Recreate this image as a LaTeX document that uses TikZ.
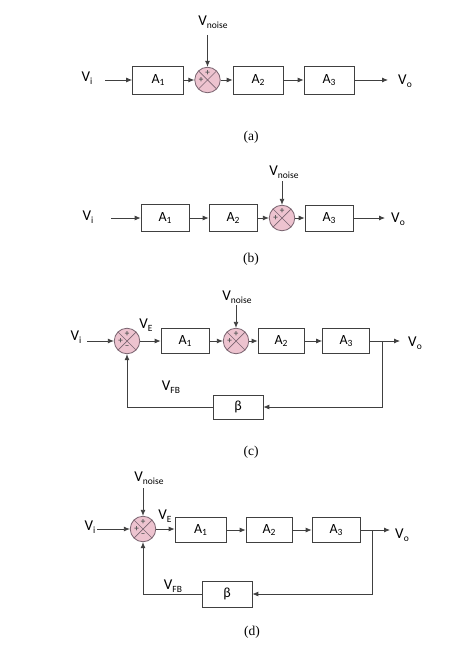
\documentclass[tikz,border=0pt]{standalone}
\usepackage{fontspec}
\setmainfont{Carlito}
\newfontfamily\capfont{Liberation Serif}
\usetikzlibrary{arrows.meta}
\newcommand\vsub[2]{#1\raisebox{-0.35ex}{\fontsize{9.5}{9.5}\selectfont #2}}
\definecolor{sumpink}{HTML}{EDC3CF}
\definecolor{sumedge}{HTML}{7A6470}
\begin{document}
\begin{tikzpicture}[x=1pt,y=-1pt,
  blk/.style={draw=black!75, line width=0.7pt, fill=white, inner sep=0pt, font=\fontsize{14}{14}\selectfont},
  sumj/.style={circle, draw=sumedge, fill=sumpink, line width=0.8pt, minimum size=25.5pt, inner sep=0pt,
    path picture={\draw[sumedge, line width=0.7pt] (path picture bounding box.north west)--(path picture bounding box.south east) (path picture bounding box.north east)--(path picture bounding box.south west);}},
  lbl/.style={font=\fontsize{15}{15}\selectfont, inner sep=0pt},
  sig/.style={font=\bfseries\fontsize{9}{9}\selectfont, inner sep=0pt, text=black!65},
  arr/.style={-{Latex[length=6pt,width=5pt]}, draw=black!75, line width=0.8pt},
  captxt/.style={font=\capfont\fontsize{13.5}{13.5}\selectfont, inner sep=0pt}]
\useasboundingbox (0,0) rectangle (474,655);

% ---------- (a) ----------
\node[lbl] (avi) at (87,78) {\vsub{V}{i}};
\coordinate (avin) at (105,80);
\node[blk, minimum width=51pt, minimum height=28pt] (aa1) at (158,80) {\vsub{A}{1}};
\node[sumj] (as) at (207.5,80) {};
\node[sig] at ([yshift=6.5pt]as.center) {+};
\node[sig] at ([xshift=-6.5pt]as.center) {+};
\node[blk, minimum width=50pt, minimum height=28pt] (aa2) at (258,80) {\vsub{A}{2}};
\node[blk, minimum width=50pt, minimum height=28pt] (aa3) at (329,80) {\vsub{A}{3}};
\coordinate (aout) at (388,80);
\node[lbl] (avo) at (405,81) {\vsub{V}{o}};
\node[lbl] (avn) at (213,22) {\vsub{V}{noise}};
\coordinate (anin) at (207.5,35);
\draw[arr] (avin) -- (aa1.west);
\draw[arr] (aa1.east) -- (as.west);
\draw[arr] (as.east) -- (aa2.west);
\draw[arr] (aa2.east) -- (aa3.west);
\draw[arr] (aa3.east) -- (aout);
\draw[arr] (anin) -- (as.north);
\node[captxt] (capa) at (251,137) {(a)};

% ---------- (b) ----------
\node[lbl] (bvi) at (88,217) {\vsub{V}{i}};
\coordinate (bvin) at (111,218);
\node[blk, minimum width=48pt, minimum height=27pt] (ba1) at (165,218) {\vsub{A}{1}};
\node[blk, minimum width=48pt, minimum height=27pt] (ba2) at (233,218) {\vsub{A}{2}};
\node[sumj] (bs) at (282,218) {};
\node[sig] at ([yshift=6.5pt]bs.center) {+};
\node[sig] at ([xshift=-6.5pt]bs.center) {+};
\node[blk, minimum width=48pt, minimum height=26pt] (ba3) at (329,218) {\vsub{A}{3}};
\coordinate (bout) at (385,218);
\node[lbl] (bvo) at (398,219) {\vsub{V}{o}};
\node[lbl] (bvn) at (284,172) {\vsub{V}{noise}};
\coordinate (bnin) at (282,181);
\draw[arr] (bvin) -- (ba1.west);
\draw[arr] (ba1.east) -- (ba2.west);
\draw[arr] (ba2.east) -- (bs.west);
\draw[arr] (bs.east) -- (ba3.west);
\draw[arr] (ba3.east) -- (bout);
\draw[arr] (bnin) -- (bs.north);
\node[captxt] (capb) at (251,259) {(b)};

% ---------- (c) ----------
\node[lbl] (cvi) at (76,337) {\vsub{V}{i}};
\coordinate (cvin) at (87,341);
\node[sumj] (cs1) at (127,341) {};
\node[sig] at ([yshift=6.5pt]cs1.center) {+};
\node[sig] at ([xshift=-6.5pt]cs1.center) {+};
\node[sig] at ([yshift=-6.5pt]cs1.center) {–};
\node[lbl] (cve) at (146,325) {\vsub{V}{E}};
\node[blk, minimum width=48pt, minimum height=25pt] (ca1) at (185,341) {\vsub{A}{1}};
\node[sumj] (cs2) at (236,341) {};
\node[sig] at ([yshift=6.5pt]cs2.center) {+};
\node[sig] at ([xshift=-6.5pt]cs2.center) {+};
\node[lbl] (cvn) at (237,297) {\vsub{V}{noise}};
\coordinate (cnin) at (236,305);
\node[blk, minimum width=46pt, minimum height=25pt] (ca2) at (281,341) {\vsub{A}{2}};
\node[blk, minimum width=47pt, minimum height=25pt] (ca3) at (346,341) {\vsub{A}{3}};
\coordinate (cbr) at (382,341);
\coordinate (cout) at (400,341);
\node[lbl] (cvo) at (415,343) {\vsub{V}{o}};
\node[blk, minimum width=50pt, minimum height=24pt] (cb) at (238,407) {β};
\node[lbl] (cvfb) at (171,387) {\vsub{V}{FB}};
\draw[arr] (cvin) -- (cs1.west);
\draw[arr] (cs1.east) -- (ca1.west);
\draw[arr] (ca1.east) -- (cs2.west);
\draw[arr] (cs2.east) -- (ca2.west);
\draw[arr] (ca2.east) -- (ca3.west);
\draw[arr] (ca3.east) -- (cout);
\draw[arr] (cnin) -- (cs2.north);
\draw[arr] (cbr) |- (cb.east);
\draw[arr] (cb.west) -| (cs1.south);
\node[captxt] (capc) at (251,452) {(c)};

% ---------- (d) ----------
\node[lbl] (dvi) at (90,527) {\vsub{V}{i}};
\coordinate (dvin) at (97,529);
\node[sumj] (ds) at (143,529) {};
\node[sig] at ([yshift=6.5pt]ds.center) {+};
\node[sig] at ([xshift=-6.5pt]ds.center) {+};
\node[sig] at ([yshift=-6.5pt]ds.center) {–};
\node[lbl] (dvn) at (149,478) {\vsub{V}{noise}};
\coordinate (dnin) at (143,488);
\node[lbl] (dve) at (165,516) {\vsub{V}{E}};
\node[blk, minimum width=51pt, minimum height=25pt] (da1) at (200.5,530) {\vsub{A}{1}};
\node[blk, minimum width=46pt, minimum height=25pt] (da2) at (269,530) {\vsub{A}{2}};
\node[blk, minimum width=48pt, minimum height=25pt] (da3) at (336,530) {\vsub{A}{3}};
\coordinate (dbr) at (372,530);
\coordinate (dout) at (390,530);
\node[lbl] (dvo) at (402,535) {\vsub{V}{o}};
\node[blk, minimum width=50pt, minimum height=26pt] (db) at (227,594) {β};
\node[lbl] (dvfb) at (173,586) {\vsub{V}{FB}};
\draw[arr] (dvin) -- (ds.west);
\draw[arr] (ds.east) -- (da1.west |- ds.east);
\draw[arr] (da1.east) -- (da2.west);
\draw[arr] (da2.east) -- (da3.west);
\draw[arr] (da3.east) -- (dout);
\draw[arr] (dnin) -- (ds.north);
\draw[arr] (dbr) |- (db.east);
\draw[arr] (db.west) -| (ds.south);
\node[captxt] (capd) at (252,632) {(d)};
\end{tikzpicture}
\end{document}
